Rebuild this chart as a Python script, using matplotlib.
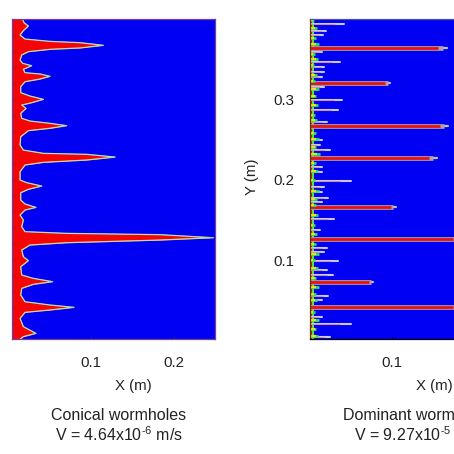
import matplotlib
matplotlib.use('Agg')
import matplotlib.pyplot as plt

plt.rcParams['font.family'] = ['Liberation Sans', 'DejaVu Sans']
plt.rcParams['mathtext.fontset'] = 'custom'
plt.rcParams['mathtext.rm'] = 'Liberation Sans'
plt.rcParams['mathtext.default'] = 'rm'

BLUE = '#0000f2'
RED = '#f40404'

# left panel: position of the dissolution front (conical wormholes)
front_y = [.3990, .3948, .3907, .3849, .3795, .3745, .3716, .3700, .3667, .3634, .3617, .3588,
           .3547, .3484, .3443, .3414, .3369, .3327, .3311, .3282, .3248, .3215, .3153, .3079,
           .3037, .2996, .2954, .2925, .2884, .2822, .2760, .2727, .2698, .2669, .2636, .2607,
           .2532, .2429, .2366, .2325, .2313, .2279, .2242, .2213, .2180, .2097, .1994, .1961,
           .1919, .1878, .1836, .1745, .1696, .1654, .1621, .1559, .1497, .1414, .1352, .1331,
           .1315, .1277, .1248, .1215, .1186, .1124, .1041, .0992, .0917, .0814, .0772, .0731,
           .0698, .0648, .0565, .0482, .0441, .0412, .0379, .0350, .0275, .0172, .0089, .0048, .0015]
front_x = [.0177, .0193, .0245, .0185, .0145, .0205, .0506, .0867, .1149, .0867, .0506, .0245,
           .0165, .0145, .0177, .0285, .0185, .0205, .0386, .0506, .0386, .0205, .0153, .0153,
           .0265, .0426, .0285, .0165, .0217, .0153, .0165, .0265, .0506, .0707, .0506, .0245,
           .0153, .0145, .0185, .0426, .0948, .1289, .0948, .0426, .0205, .0145, .0145, .0225,
           .0406, .0245, .0153, .0153, .0205, .0337, .0205, .0145, .0185, .0165, .0205, .0707,
           .1831, .2474, .1831, .0707, .0265, .0165, .0185, .0245, .0153, .0165, .0305, .0538,
           .0305, .0165, .0153, .0205, .0506, .0795, .0506, .0205, .0145, .0185, .0337, .0185, .0145]

# right panel: dominant wormholes
main_y = [.3638, .3195, .2665, .2267, .1658, .1261, .0731, .0412]
main_tip = [.1659, .0976, .1679, .1538, .1048, .185, .0775, .185]

thin_y = [.3928, .3845, .3791, .3580, .3464, .3402, .3340, .3277, .3145, .2992, .2863, .2714,
          .2487, .2424, .2362, .2151, .2089, .1977, .1911, .1849, .1774, .1721, .1505, .1373,
          .1145, .1095, .0983, .0876, .0814, .0553, .0503, .0296, .0205, .0039]
thin_tip = [.0422, .0205, .0165, .0153, .0373, .0185, .0181, .0153, .0181, .0398, .0349, .0213,
            .0153, .0133, .0253, .0153, .0153, .0502, .0181, .0153, .0233, .0153, .0301, .0133,
            .0213, .0181, .0345, .0213, .0285, .0225, .0153, .0153, .0502, .0253]

wall_y = [.398, .388, .376, .368, .356, .350, .342, .330, .322, .312, .304, .292, .280, .274,
          .258, .250, .240, .232, .220, .210, .200, .186, .176, .168, .156, .144, .132, .120,
          .108, .100, .090, .078, .066, .058, .050, .036, .026, .014, .006]
wall_x = [.006, .010, .008, .012, .007, .011, .006, .010, .007, .012, .009, .011, .007, .010,
          .008, .012, .009, .013, .008, .011, .007, .012, .010, .008, .011, .007, .010, .008,
          .012, .007, .011, .009, .012, .008, .010, .007, .012, .009, .011]

y_ticks = [0.1, 0.2, 0.3]
x_ticks_left = [0.1, 0.2]
x_ticks_right = [0.1]
y_minor = [.02, .04, .06, .08, .12, .14, .16, .18, .22, .24, .26, .28, .32, .34, .36, .38]

W = 454.0


def panel(px0, px1, py0, py1):
    return fig.add_axes([px0 / W, 1 - py1 / W, (px1 - px0) / W, (py1 - py0) / W])


fig = plt.figure(figsize=(4.54, 4.54), dpi=100)

# Conical wormholes
ax1 = panel(12, 215, 19, 339)
ax1.set_facecolor(BLUE)
ax1.fill_betweenx(front_y, 0, front_x, color=RED, lw=0)
ax1.plot(front_x, front_y, color='#d8dcc0', lw=0.9)
ax1.plot(front_x, front_y, color='#90e080', lw=0.3)
ax1.set_xlim(.0048, .2494)
ax1.set_ylim(.0019, .3994)
ax1.set_xticks(x_ticks_left)
ax1.set_xticklabels(['0.1', '0.2'], fontsize=10.8, color='#222222')
ax1.set_yticks(y_ticks)
ax1.set_yticks(y_minor, minor=True)
ax1.set_yticklabels([])
ax1.tick_params(axis='x', direction='in', length=2, width=0.5, pad=12, color='#303060')
ax1.tick_params(axis='y', which='both', direction='in', length=2, width=0.5, color='#802020')
for s in ax1.spines.values():
    s.set_color('#7040a0')
    s.set_linewidth(0.9)

# Dominant wormholes, the panel runs past the right edge of the figure
ax2 = panel(310, 513, 19, 339)
ax2.set_facecolor(BLUE)
ax2.hlines(thin_y, 0, thin_tip, color='#c8c8e8', lw=1.5, capstyle='round')
ax2.hlines(thin_y, 0, [t * 0.75 for t in thin_tip], color='#d090a0', lw=0.7)
ax2.hlines(main_y, 0, main_tip, color='#c4c0cc', lw=1.6, capstyle='round')
ax2.hlines(main_y, 0, [t * 0.97 for t in main_tip], color='#b0a0a4', lw=3.4)
ax2.hlines(main_y, 0, [t * 0.94 for t in main_tip], color='#e81010', lw=2.0)
# jagged green and yellow stubs along the inlet face
ax2.axvspan(0, .006, color='#50e050', lw=0)
ax2.hlines(wall_y, 0, wall_x, color='#30e060', lw=2.0)
ax2.hlines(wall_y, 0, [x * 0.75 for x in wall_x], color='#e8e020', lw=1.6)
ax2.axvspan(0, .0035, color='#a03010', lw=0)
ax2.set_xlim(.0012, .2458)
ax2.set_ylim(.0019, .3994)
ax2.set_xticks(x_ticks_right)
ax2.set_xticklabels(['0.1'], fontsize=10.8, color='#222222')
ax2.set_yticks(y_ticks)
ax2.set_yticklabels(['0.1', '0.2', '0.3'], fontsize=10.8, color='#222222')
ax2.tick_params(axis='x', direction='in', length=2, width=0.5, pad=12)
ax2.tick_params(axis='y', direction='in', length=5, width=1.2, pad=11)
for s in ax2.spines.values():
    s.set_linewidth(0.9)
ax2.spines['left'].set_color('#603010')
ax2.spines['top'].set_color('#5050a0')

text_color = '#222222'
fig.text(133 / W, 1 - 386 / W, 'X (m)', fontsize=10.8, ha='center', va='center', color=text_color)
fig.text(434 / W, 1 - 386 / W, 'X (m)', fontsize=10.8, ha='center', va='center', color=text_color)
fig.text(252 / W, 1 - 177 / W, 'Y (m)', fontsize=10.8, ha='center', va='center', rotation=90, color=text_color)
fig.text(119 / W, 1 - 415 / W, 'Conical wormholes', fontsize=11.5, ha='center', va='center', color=text_color)
fig.text(119 / W, 1 - 435 / W, r'V = 4.64x10$^{\text{-}6}$ m/s', fontsize=11.5, ha='center', va='center', color=text_color)
fig.text(418 / W, 1 - 415 / W, 'Dominant wormholes', fontsize=11.5, ha='center', va='center', color=text_color)
fig.text(418 / W, 1 - 435 / W, r'V = 9.27x10$^{\text{-}5}$ m/s', fontsize=11.5, ha='center', va='center', color=text_color)

fig.savefig('out.png', dpi=100)
